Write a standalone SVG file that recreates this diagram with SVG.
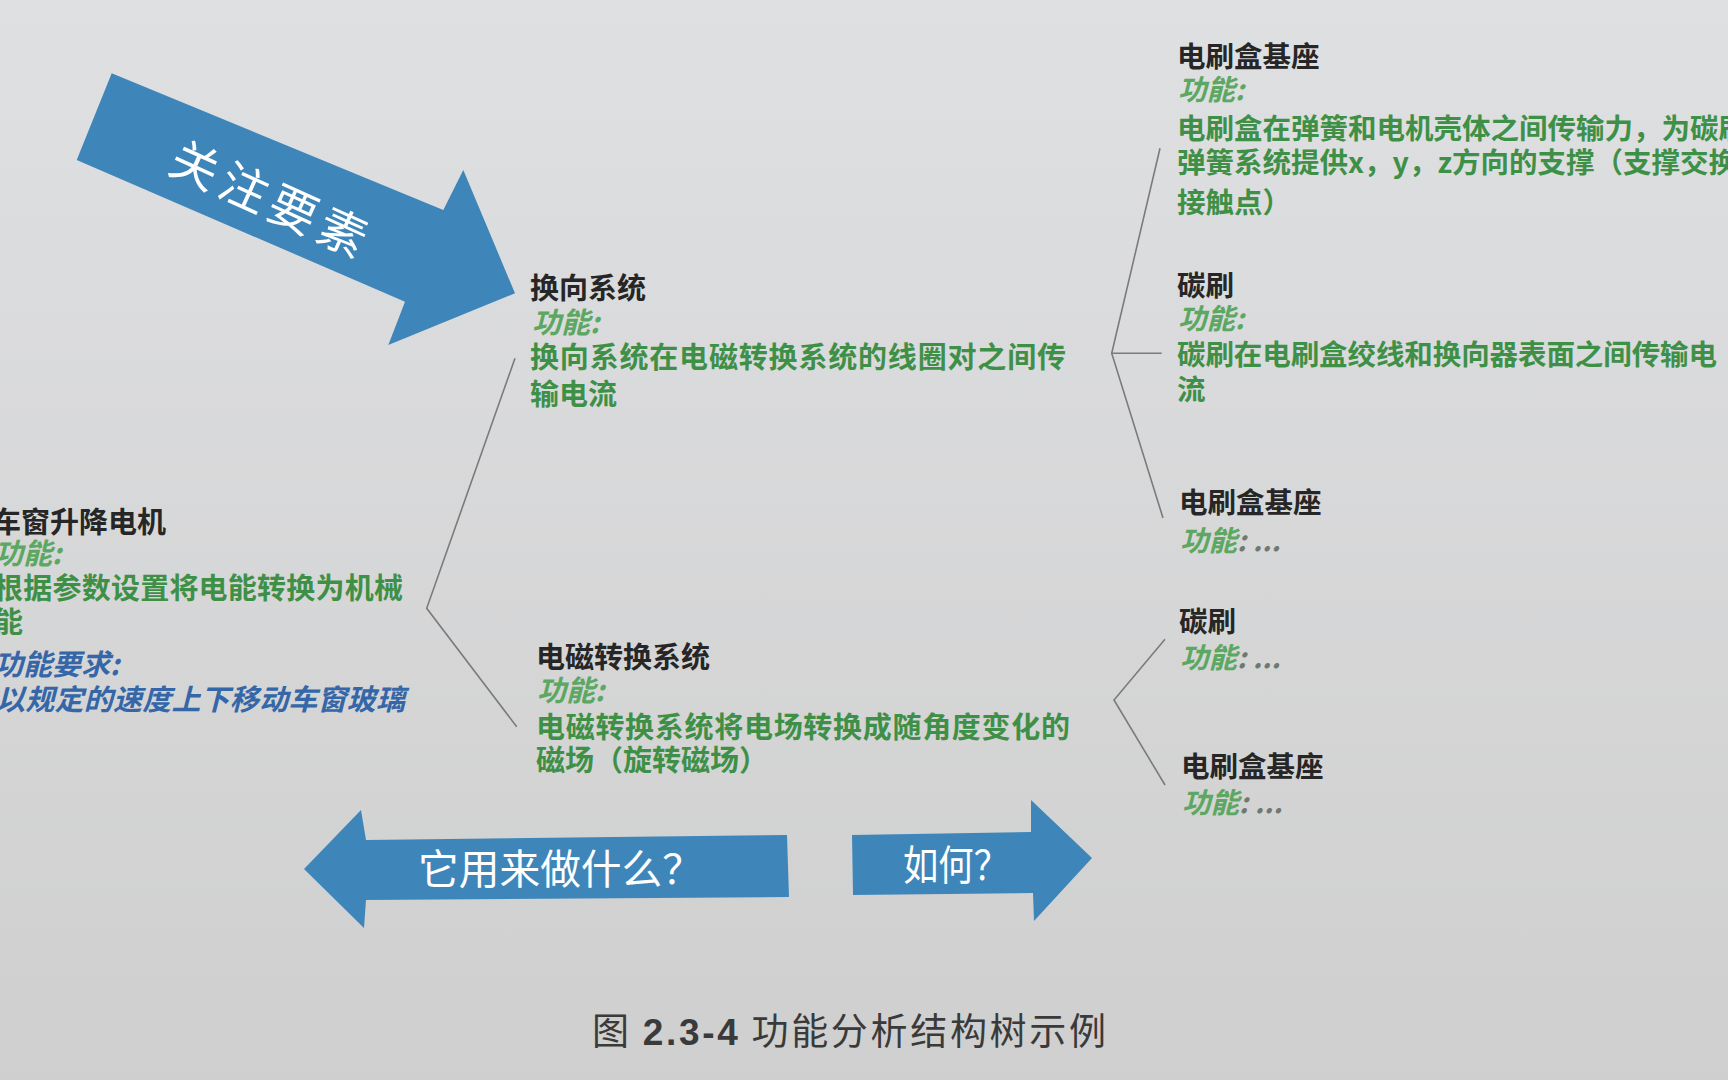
<svg xmlns="http://www.w3.org/2000/svg" width="1728" height="1080" viewBox="0 0 1728 1080">
<defs>
<linearGradient id="bg" x1="0" y1="0" x2="0" y2="1">
<stop offset="0" stop-color="#dfe0e2"/>
<stop offset="1" stop-color="#cfcfcf"/>
</linearGradient>
<style>
text{font-family:"Noto Sans CJK SC","Noto Sans",sans-serif}
.title{font-weight:700;fill:#262626}
.body{font-weight:700;fill:#3f9047}
.fn{font-weight:700;fill:#5ca761;font-style:italic}
.req{font-weight:700;fill:#3567a8;font-style:italic}
.dots{font-weight:700;fill:#6e7a70}
.s29{font-size:29px}
.s28{font-size:28.5px}
.big{fill:#3e86ba}
.bigtxt{fill:#ffffff;font-weight:400}
.conn{fill:none;stroke:#7b7b7b;stroke-width:1.6}
</style>
</defs>
<rect width="1728" height="1080" fill="url(#bg)"/>

<g id="arrow-focus">
<polygon class="big" points="111.7,73.3 443.3,210 463.3,170 515,293.3 388.3,345 405,301.7 76.7,160"/>
<text class="bigtxt" x="273" y="197" font-size="48" text-anchor="middle" dominant-baseline="central" letter-spacing="6" transform="rotate(24.4 273 197)">关注要素</text>
</g>

<g id="arrow-what">
<polygon class="big" points="304,869 361,810 366,840 787,835 789,897 366,900 364,928"/>
<text class="bigtxt" x="418" y="884" font-size="41" textLength="285" lengthAdjust="spacingAndGlyphs">它用来做什么？</text>
</g>

<g id="arrow-how">
<polygon class="big" points="852,835 1031,832 1031,800 1092,858 1034,921 1033,893 853,895"/>
<text class="bigtxt" x="903" y="880" font-size="41" textLength="106" lengthAdjust="spacingAndGlyphs">如何？</text>
</g>

<g id="connectors">
<polyline class="conn" points="515,358.3 426.7,608.3 516.7,726.7"/>
<polyline class="conn" points="1160,148.3 1111.7,353.3 1163,518"/>
<line class="conn" x1="1111.7" y1="353.3" x2="1161.7" y2="353.3"/>
<polyline class="conn" points="1165,639.3 1114,700 1165,785"/>
</g>

<g id="node-motor">
<text class="title s29" x="-8" y="533">车窗升降电机</text>
<text class="fn s29" x="-6" y="564">功能:</text>
<text class="body s29" x="-6" y="599" textLength="409" lengthAdjust="spacing">根据参数设置将电能转换为机械</text>
<text class="body s29" x="-6" y="633">能</text>
<text class="req s29" x="-6" y="675">功能要求:</text>
<text class="req s29" x="-4" y="710" textLength="409" lengthAdjust="spacing">以规定的速度上下移动车窗玻璃</text>
</g>

<g id="node-commutation">
<text class="title s29" x="530" y="299">换向系统</text>
<text class="fn s29" x="532" y="333">功能:</text>
<text class="body s29" x="530" y="368" textLength="536" lengthAdjust="spacing">换向系统在电磁转换系统的线圈对之间传</text>
<text class="body s29" x="530" y="405">输电流</text>
</g>

<g id="node-em">
<text class="title s29" x="536" y="668">电磁转换系统</text>
<text class="fn s29" x="537" y="701">功能:</text>
<text class="body s29" x="536" y="738" textLength="534" lengthAdjust="spacing">电磁转换系统将电场转换成随角度变化的</text>
<text class="body s29" x="536" y="771">磁场（旋转磁场）</text>
</g>

<g id="node-brushbox-1">
<text class="title s28" x="1177" y="67">电刷盒基座</text>
<text class="fn s28" x="1178" y="100">功能:</text>
<text class="body s28" x="1177" y="139">电刷盒在弹簧和电机壳体之间传输力，为碳刷</text>
<text class="body s28" x="1177" y="173">弹簧系统提供x，y，z方向的支撑（支撑交换</text>
<text class="body s28" x="1177" y="213">接触点）</text>
</g>

<g id="node-brush-1">
<text class="title s28" x="1177" y="296">碳刷</text>
<text class="fn s28" x="1178" y="329">功能:</text>
<text class="body s28" x="1177" y="365" textLength="540" lengthAdjust="spacing">碳刷在电刷盒绞线和换向器表面之间传输电</text>
<text class="body s28" x="1177" y="400">流</text>
</g>

<g id="node-brushbox-2">
<text class="title s28" x="1179" y="513">电刷盒基座</text>
<text class="fn s28" x="1180" y="551">功能<tspan class="dots">: ...</tspan></text>
</g>

<g id="node-brush-2">
<text class="title s28" x="1179" y="632">碳刷</text>
<text class="fn s28" x="1180" y="668">功能<tspan class="dots">: ...</tspan></text>
</g>

<g id="node-brushbox-3">
<text class="title s28" x="1181" y="777">电刷盒基座</text>
<text class="fn s28" x="1182" y="813">功能<tspan class="dots">: ...</tspan></text>
</g>

<g id="caption">
<text x="592" y="1045" font-size="37" fill="#3a3a3a" textLength="514" lengthAdjust="spacing">图 <tspan font-family="Liberation Sans, sans-serif" font-weight="700">2.3-4</tspan> 功能分析结构树示例</text>
</g>
</svg>
